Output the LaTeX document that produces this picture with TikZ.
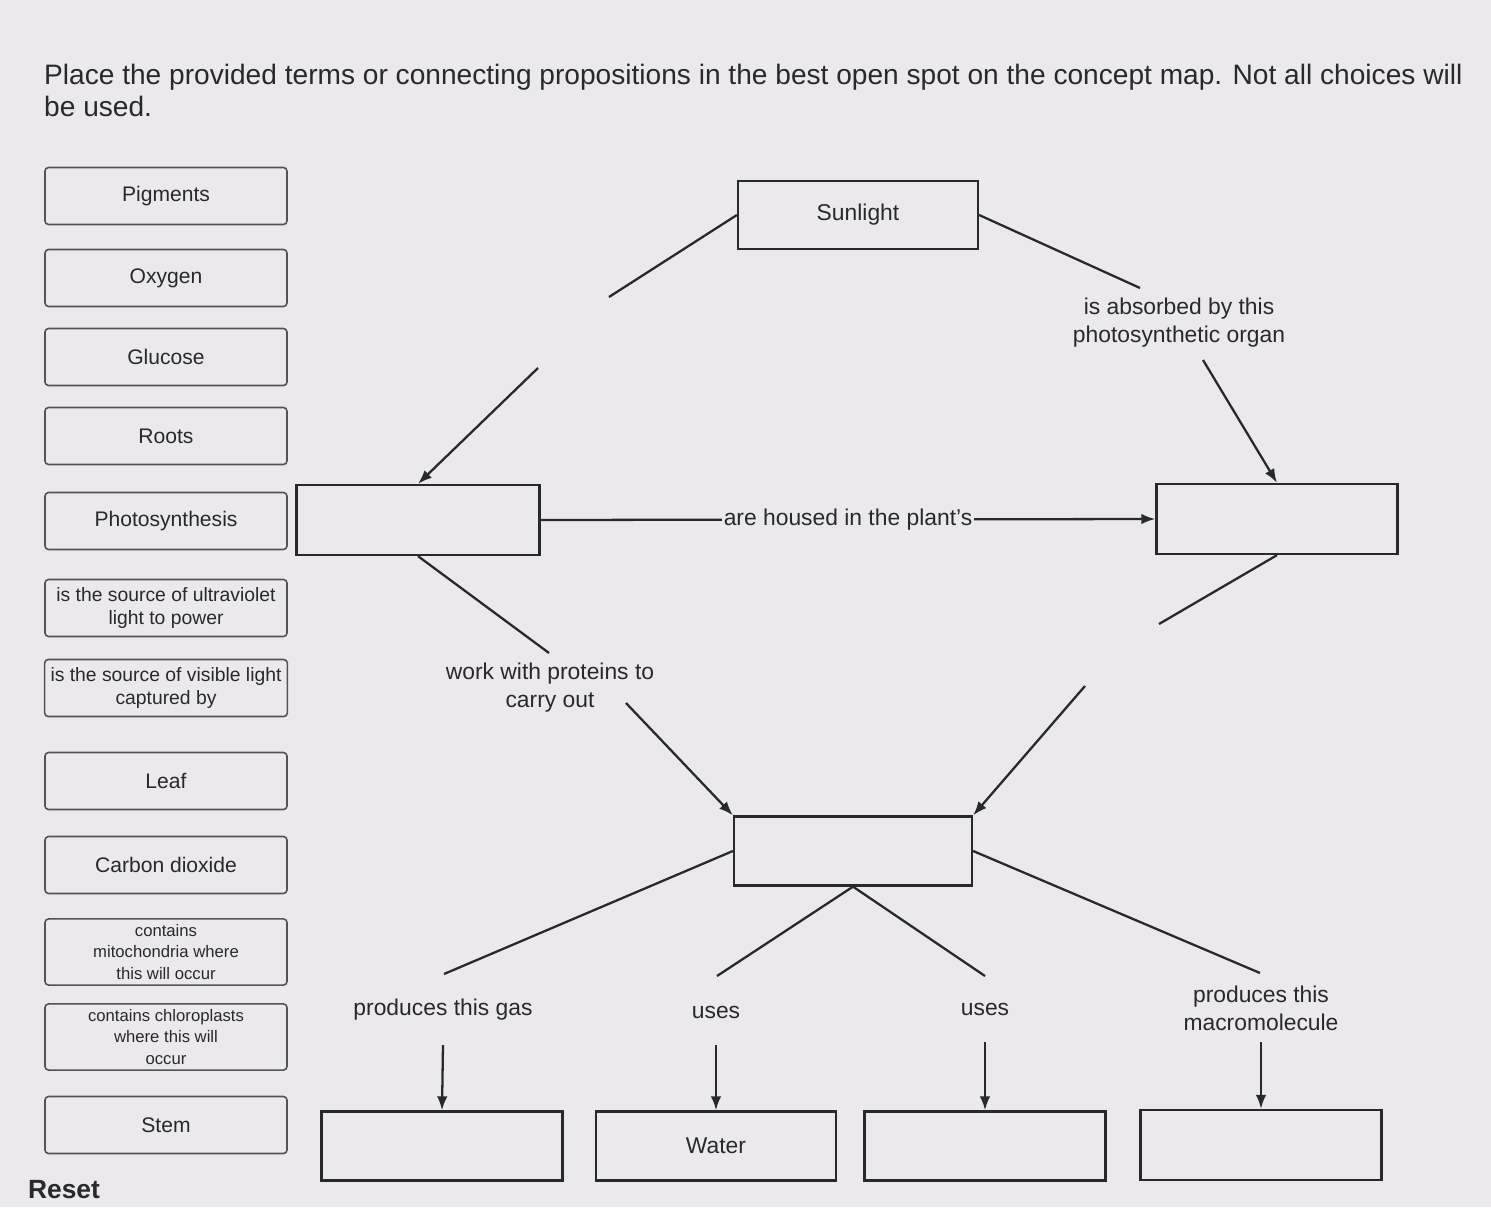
\documentclass[tikz,border=0pt]{standalone}
\usepackage{fontspec}
\setmainfont{Liberation Sans}
\usetikzlibrary{arrows.meta}
\definecolor{bg}{RGB}{236,233,238}
\definecolor{ink}{RGB}{40,40,45}
\begin{document}
\begin{tikzpicture}[x=0.02cm,y=-0.02cm,
  box/.style={draw=ink,line width=1.3pt,fill=bg},
  pal/.style={draw=ink!80,line width=0.9pt,rounded corners=2pt,minimum width=4.84cm,minimum height=1.14cm,align=center,font=\fontsize{12}{14}\selectfont,text=ink},
  smallpal/.style={pal,font=\fontsize{10}{12}\selectfont},
  lab/.style={font=\fontsize{13}{16}\selectfont,text=ink,align=center},
  con/.style={draw=ink,line width=1.3pt},
  arr/.style={con,-{Latex[length=8pt,width=6pt]}}]
\useasboundingbox (0,0) rectangle (1491,1207);
\fill[bg] (0,0) rectangle (1491,1207);
\node[anchor=base west,font=\fontsize{16}{19}\selectfont,text=ink] (t1) at (38,84) {Place the provided terms or connecting propositions in the best open spot on the concept map. Not all choices will};
\node[anchor=base west,font=\fontsize{16}{19}\selectfont,text=ink] (t2) at (38,116) {be used.};
% palette
\node[pal] (p1) at (166,196) {Pigments};
\node[pal] (p2) at (166,278) {Oxygen};
\node[pal] (p3) at (166,357) {Glucose};
\node[pal] (p4) at (166,436) {Roots};
\node[pal] (p5) at (166,521) {Photosynthesis};
\node[smallpal,font=\fontsize{11}{13}\selectfont] (p6) at (166,608) {is the source of ultraviolet\\light to power};
\node[smallpal,font=\fontsize{11}{13}\selectfont] (p7) at (166,688) {is the source of visible light\\captured by};
\node[pal] (p8) at (166,781) {Leaf};
\node[pal] (p9) at (166,865) {Carbon dioxide};
\node[smallpal,font=\fontsize{9.5}{12}\selectfont] (p10) at (166,952) {contains\\mitochondria where\\this will occur};
\node[smallpal,font=\fontsize{9.5}{12}\selectfont] (p11) at (166,1037) {contains chloroplasts\\where this will\\occur};
\node[pal] (p12) at (166,1125) {Stem};
\node[font=\bfseries\fontsize{15}{18}\selectfont,text=ink] (reset) at (64,1190) {Reset};
% map boxes
\node[box,minimum width=4.8cm,minimum height=1.36cm,lab] (sun) at (858,215) {Sunlight};
\node[box,minimum width=4.86cm,minimum height=1.4cm] (L) at (418,520) {};
\node[box,minimum width=4.82cm,minimum height=1.4cm] (R) at (1277,519) {};
\node[box,minimum width=4.76cm,minimum height=1.38cm] (C) at (853,851) {};
\node[box,minimum width=4.82cm,minimum height=1.38cm] (b1) at (442,1146) {};
\node[box,minimum width=4.8cm,minimum height=1.38cm,lab] (b2) at (716,1146) {Water};
\node[box,minimum width=4.82cm,minimum height=1.38cm] (b3) at (985,1146) {};
\node[box,minimum width=4.82cm,minimum height=1.4cm] (b4) at (1261,1145) {};
% labels
\node[lab] (absorb) at (1179,323) {is absorbed by this\\photosynthetic organ};
\node[lab] (work) at (550,688) {work with proteins to\\carry out};
\node[lab] (gas) at (443,1010) {produces this gas};
\node[lab] (uses1) at (716,1012) {uses};
\node[lab] (uses2) at (985,1009) {uses};
\node[lab] (macro) at (1261,1008) {produces this\\macromolecule};
% free ends
\coordinate (a1) at (609,297);
\coordinate (a2) at (1140,288);
\coordinate (a3) at (1203,360);
\coordinate (a4) at (538,368);
\coordinate (a5) at (549,653);
\coordinate (a6) at (626,703);
\coordinate (a7) at (1159,624);
\coordinate (a8) at (1085,686);
\coordinate (g1) at (444,974);
\coordinate (g2) at (717,976);
\coordinate (g3) at (985,976);
\coordinate (g4) at (1260,973);
\coordinate (d1) at (443,1045);
\coordinate (d2) at (716,1045);
\coordinate (d3) at (985,1042);
\coordinate (d4) at (1261,1042);
% connectors
\draw[con] (a1) -- (sun.west);
\draw[con] (sun.east) -- (a2);
\draw[arr] (a3) -- (R.north);
\draw[arr] (a4) -- (L.north);
\draw[con] (L.south) -- (a5);
\draw[arr] (a6) -- (C.north west);
\draw[con] (R.south) -- (a7);
\draw[arr] (a8) -- (C.north east);
\draw[arr] (L.east) -- node[lab,fill=bg,inner sep=1pt] (housed) {are housed in the plant's} (R.west);
\draw[con] (C.west) -- (g1);
\draw[con] (C.south) -- (g2);
\draw[con] (C.south) -- (g3);
\draw[con] (C.east) -- (g4);
\draw[arr] (d1) -- (b1.north);
\draw[arr] (d2) -- (b2.north);
\draw[arr] (d3) -- (b3.north);
\draw[arr] (d4) -- (b4.north);
\end{tikzpicture}
\end{document}
